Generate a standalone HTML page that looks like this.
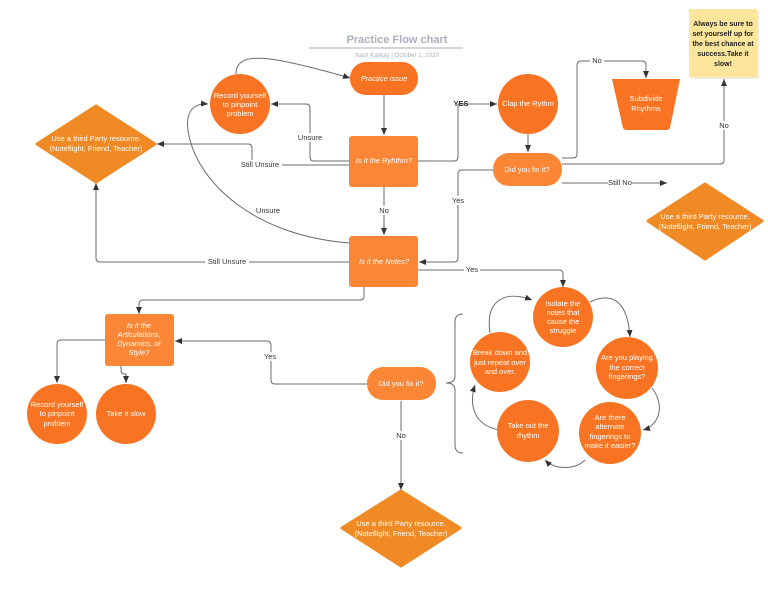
<!DOCTYPE html>
<html><head><meta charset="utf-8"><style>
html,body{margin:0;padding:0;background:#fff;}
svg{display:block;font-family:"Liberation Sans",sans-serif;}
.w{fill:#fff;font-size:7.5px;text-anchor:middle;}
.wi{fill:#fff;font-size:7.5px;text-anchor:middle;font-style:italic;}
.l{fill:#333;font-size:7.5px;text-anchor:middle;}
.c{fill:none;stroke:#6b6b6b;stroke-width:1;}
</style></head><body>
<svg width="768" height="594" viewBox="0 0 768 594" xmlns="http://www.w3.org/2000/svg">
<defs><marker id="a" markerWidth="8" markerHeight="8" refX="7" refY="4" orient="auto" markerUnits="userSpaceOnUse"><path d="M0,1 L7,4 L0,7 z" fill="#333"/></marker></defs>
<rect width="768" height="594" fill="#fff"/>
<text x="397" y="43" font-size="11" font-weight="bold" fill="#aab0bb" text-anchor="middle">Practice Flow chart</text>
<line x1="309" y1="48" x2="463" y2="48" stroke="#aab0bb" stroke-width="1"/>
<text x="397" y="57" font-size="6.2" fill="#aab0bb" text-anchor="middle">Naor Karkay  |  October 1, 2020</text>

<path class="c" d="M236,74 C236,50 270,55 350,78" marker-end="url(#a)"/>
<path class="c" d="M384,95 V135" stroke-width="1.5" marker-end="url(#a)"/>
<path class="c" d="M349,161 H314 Q310,161 310,157 V108 Q310,104 306,104 H271" marker-end="url(#a)"/>
<path class="c" d="M349,165 H252 V148 Q252,144 248,144 H157" marker-end="url(#a)"/>
<path class="c" d="M418,161 H454 Q458,161 458,157 V104 H497" marker-end="url(#a)"/>
<path class="c" d="M384,187 V235" marker-end="url(#a)"/>
<path class="c" d="M349,243 C250,235 200,180 190,140 C182,110 195,103 208,104" marker-end="url(#a)"/>
<path class="c" d="M349,262 H100 Q96,262 96,258 V183" marker-end="url(#a)"/>
<path class="c" d="M528,134 V152" stroke-width="1.2" marker-end="url(#a)"/>
<path class="c" d="M562,158 H573 Q577,158 577,154 V65 Q577,61 581,61 H642 Q646,61 646,65 V78" marker-end="url(#a)"/>
<path class="c" d="M562,164 H720 Q724,164 724,160 V79" marker-end="url(#a)"/>
<path class="c" d="M562,183 H667" marker-end="url(#a)"/>
<path class="c" d="M493,170 H462 Q458,170 458,174 V258 Q458,262 454,262 H419" marker-end="url(#a)"/>
<path class="c" d="M418,270 H559 Q563,270 563,274 V287" marker-end="url(#a)"/>
<path class="c" d="M364,287 V296 Q364,300 360,300 H143 Q139,300 139,304 V314" marker-end="url(#a)"/>
<path class="c" d="M367,384 H275 Q271,384 271,380 V345 Q271,341 267,341 H175" marker-end="url(#a)"/>
<path class="c" d="M105,340 H61 Q57,340 57,344 V383" marker-end="url(#a)"/>
<path class="c" d="M121,366 V370 Q121,374 125,374 H126 V383" marker-end="url(#a)"/>
<path class="c" d="M401,401 V490" marker-end="url(#a)"/>
<path class="c" d="M490,333 C485,300 505,290 532,300" marker-end="url(#a)"/>
<path class="c" d="M590,302 C615,290 628,305 630,337" marker-end="url(#a)"/>
<path class="c" d="M652,388 C665,405 660,425 643,430" marker-end="url(#a)"/>
<path class="c" d="M585,460 C575,470 555,470 545,460" marker-end="url(#a)"/>
<path class="c" d="M500,430 C470,425 470,400 475,385" marker-end="url(#a)"/>
<path class="c" d="M463,314 Q455,314 455,322 V376 Q455,383 446,383 Q455,383 455,390 V445 Q455,453 463,453"/>

<g>
<rect x="296" y="133" width="26" height="9" fill="#fff"/><text class="l" x="310" y="140">Unsure</text>
<rect x="238" y="160" width="44" height="9" fill="#fff"/><text class="l" x="260" y="167">Still Unsure</text>
<text class="l" x="461" y="106" font-weight="bold">YES</text>
<rect x="376" y="206" width="16" height="9" fill="#fff"/><text class="l" x="384" y="213">No</text>
<rect x="254" y="206" width="26" height="9" fill="#fff"/><text class="l" x="268" y="213">Unsure</text>
<rect x="205" y="257" width="44" height="9" fill="#fff"/><text class="l" x="227" y="264">Still Unsure</text>
<rect x="451" y="196" width="14" height="9" fill="#fff"/><text class="l" x="458" y="203">Yes</text>
<rect x="590" y="56" width="14" height="9" fill="#fff"/><text class="l" x="597" y="63">No</text>
<rect x="717" y="121" width="14" height="9" fill="#fff"/><text class="l" x="724" y="128">No</text>
<rect x="608" y="178" width="24" height="9" fill="#fff"/><text class="l" x="620" y="185">Still No</text>
<rect x="464" y="265" width="16" height="9" fill="#fff"/><text class="l" x="472" y="272">Yes</text>
<rect x="262" y="352" width="18" height="9" fill="#fff"/><text class="l" x="270" y="359">Yes</text>
<rect x="394" y="431" width="16" height="9" fill="#fff"/><text class="l" x="401" y="438">No</text>
</g>

<rect x="350" y="62" width="68" height="33" rx="16" fill="#F97422"/>
<text class="wi" x="384" y="81">Practice issue</text>
<circle cx="240" cy="104" r="30" fill="#F97422"/>
<text class="w" x="240" y="98">Record yourself</text><text class="w" x="240" y="107">to pinpoint</text><text class="w" x="240" y="116">problem</text>
<rect x="349" y="136" width="69" height="51" rx="3" fill="#FA8636"/>
<text class="wi" x="384" y="163">Is it the Ryhthm?</text>
<rect x="349" y="236" width="69" height="51" rx="3" fill="#FA8636"/>
<text class="wi" x="384" y="264">Is it the Notes?</text>
<circle cx="528" cy="104" r="30" fill="#F97422"/>
<text class="w" x="528" y="106">Clap the Rythm</text>
<rect x="493" y="153" width="69" height="33" rx="16" fill="#FA8636"/>
<text class="w" x="527" y="172">Did you fix it?</text>
<path d="M612,79 H680 L670,128 Q669,130 666,130 H627 Q624,130 623,128 Z" fill="#F97422"/>
<text class="w" x="646" y="101">Subdivide</text><text class="w" x="646" y="111">Rhythms</text>
<rect x="691" y="11" width="68" height="68" fill="#e6e0c6" opacity="0.6"/>
<rect x="689" y="9" width="68" height="68" fill="#FDE59B"/>
<g font-size="7" font-weight="bold" fill="#222" text-anchor="middle">
<text x="723" y="26">Always be sure to</text><text x="723" y="36">set yourself up for</text><text x="723" y="46">the best chance at</text><text x="723" y="56">success.Take it</text><text x="723" y="66">slow!</text></g>
<path d="M96,106 L155,144 L96,182 L37,144 Z" fill="#EF8A24" stroke="#EF8A24" stroke-linejoin="round" stroke-width="3"/>
<text class="w" x="96" y="141">Use a third Party resource.</text><text class="w" x="96" y="151">(Noteflight, Friend, Teacher)</text>
<path d="M705,184 L762,221 L705,259 L648,221 Z" fill="#EF8A24" stroke="#EF8A24" stroke-linejoin="round" stroke-width="3"/>
<text class="w" x="705" y="219">Use a third Party resource.</text><text class="w" x="705" y="229">(Noteflight, Friend, Teacher)</text>
<path d="M401,491 L460,528 L401,566 L342,528 Z" fill="#EF8A24" stroke="#EF8A24" stroke-linejoin="round" stroke-width="3"/>
<text class="w" x="401" y="526">Use a third Party resource.</text><text class="w" x="401" y="536">(Noteflight, Friend, Teacher)</text>
<rect x="105" y="314" width="69" height="52" rx="3" fill="#FA8636"/>
<text class="wi" x="139" y="328">Is it the</text><text class="wi" x="139" y="337">Articulations,</text><text class="wi" x="139" y="346">Dynamics, or</text><text class="wi" x="139" y="355">Style?</text>
<circle cx="57" cy="414" r="30" fill="#F97422"/>
<text class="w" x="57" y="407">Record yourself</text><text class="w" x="57" y="416">to pinpoint</text><text class="w" x="57" y="426">problem</text>
<circle cx="126" cy="414" r="30" fill="#F97422"/>
<text class="w" x="126" y="416">Take it slow</text>
<rect x="367" y="367" width="69" height="33" rx="16" fill="#FA8636"/>
<text class="w" x="401" y="386">Did you fix it?</text>
<circle cx="563" cy="317" r="30" fill="#F97422"/>
<text class="w" x="563" y="306">Isolate the</text><text class="w" x="563" y="315">notes that</text><text class="w" x="563" y="324">cause the</text><text class="w" x="563" y="333">struggle</text>
<circle cx="627" cy="368" r="31" fill="#F97422"/>
<text class="w" x="627" y="360">Are you playing</text><text class="w" x="627" y="370">the correct</text><text class="w" x="627" y="379">fingerings?</text>
<circle cx="610" cy="433" r="31" fill="#F97422"/>
<text class="w" x="610" y="420">Are there</text><text class="w" x="610" y="429">alternate</text><text class="w" x="610" y="439">fingerings to</text><text class="w" x="610" y="448">make it easier?</text>
<circle cx="528" cy="431" r="31" fill="#F97422"/>
<text class="w" x="528" y="428">Take out the</text><text class="w" x="528" y="438">rhythm</text>
<circle cx="500" cy="362" r="30" fill="#F97422"/>
<text class="w" x="500" y="355">Break down and</text><text class="w" x="500" y="365">just repeat over</text><text class="w" x="500" y="374">and over.</text>
</svg>
</body></html>
